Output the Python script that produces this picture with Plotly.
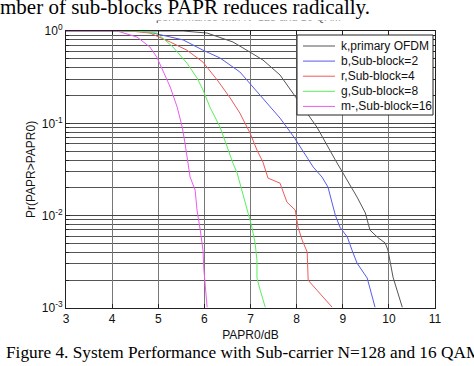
import plotly.graph_objects as go

# ---- data ----
x_k = [3.0, 5.54, 6.06, 6.62, 6.99, 7.27, 7.64, 8.25, 8.44, 8.84, 8.99, 9.10, 9.31, 9.49, 9.59, 9.75, 9.92, 9.98, 10.03, 10.09, 10.29]
y_k = [1.0, 1.0, 0.95, 0.76, 0.59, 0.485, 0.334, 0.123, 0.091, 0.040, 0.0297, 0.0243, 0.0159, 0.0107, 0.00698, 0.00586, 0.00505, 0.00424, 0.00306, 0.00216, 0.00102]

x_b = [3.0, 4.5, 4.89, 5.54, 5.97, 6.34, 6.77, 7.06, 7.27, 7.49, 7.64, 7.95, 8.25, 8.36, 8.55, 8.68, 8.77, 8.84, 8.94, 9.10, 9.20, 9.31, 9.53, 9.70]
y_b = [1.0, 1.0, 0.95, 0.80, 0.62, 0.51, 0.36, 0.247, 0.188, 0.139, 0.114, 0.07, 0.040, 0.0336, 0.0262, 0.0204, 0.0137, 0.0101, 0.0075, 0.00586, 0.00424, 0.00306, 0.00211, 0.00102]

x_r = [3.0, 4.4, 4.82, 5.26, 5.62, 5.97, 6.28, 6.56, 6.77, 6.99, 7.14, 7.27, 7.38, 7.64, 7.79, 7.97, 8.03, 8.12, 8.23, 8.25, 8.44, 8.77]
y_r = [1.0, 1.0, 0.95, 0.76, 0.62, 0.46, 0.294, 0.188, 0.129, 0.0785, 0.0514, 0.038, 0.0255, 0.0225, 0.014, 0.0115, 0.0075, 0.00544, 0.00403, 0.002, 0.00156, 0.00102]

x_g = [3.0, 4.54, 4.97, 5.32, 5.62, 5.84, 5.97, 6.12, 6.34, 6.49, 6.62, 6.71, 6.82, 6.93, 7.03, 7.10, 7.14, 7.14, 7.21, 7.32]
y_g = [1.0, 1.0, 0.95, 0.67, 0.45, 0.31, 0.23, 0.15, 0.091, 0.0553, 0.037, 0.029, 0.0176, 0.0115, 0.0075, 0.00505, 0.0033, 0.0021, 0.00156, 0.00102]

x_m = [3.0, 4.11, 4.54, 4.82, 4.97, 5.10, 5.26, 5.41, 5.52, 5.58, 5.65, 5.69, 5.80, 5.84, 5.91, 5.97, 5.99, 6.04, 6.06]
y_m = [1.0, 1.0, 0.86, 0.67, 0.52, 0.378, 0.247, 0.15, 0.091, 0.061, 0.037, 0.0262, 0.0189, 0.0115, 0.007, 0.00424, 0.00258, 0.00145, 0.00102]

names = ["k,primary OFDM", "b,Sub-block=2", "r,Sub-block=4", "g,Sub-block=8", "m-,Sub-block=16"]
colors = ["#555555", "#5a5aee", "#ee5a5a", "#5aee5a", "#ee5aee"]

x_ticks = [3, 4, 5, 6, 7, 8, 9, 10, 11]
y_ticks = [1e-3, 1e-2, 1e-1, 1]
y_ticktext = ["10<sup>-3</sup>", "10<sup>-2</sup>", "10<sup>-1</sup>", "10<sup>0</sup>"]
y_minor = [m * 10 ** e for e in (-3, -2, -1) for m in range(2, 10)]

# plot-area geometry in pixels (used to place paper-referenced decorations)
L, R, T, B = 66, 435, 31, 308
def px(x):
    return (x - L) / (R - L)
def py(y):
    return (B - y) / (B - T)

fig = go.Figure()
for xs, ys, n, c in zip([x_k, x_b, x_r, x_g, x_m], [y_k, y_b, y_r, y_g, y_m], names, colors):
    fig.add_trace(go.Scatter(x=xs, y=ys, mode="lines", name=n, line=dict(color=c, width=1)))

axis_font = dict(family="Liberation Sans, Arial", size=12, color="#111")
fig.update_layout(
    width=474, height=366,
    margin=dict(l=L, r=474 - R, t=T, b=366 - B),
    paper_bgcolor="white", plot_bgcolor="white",
    font=axis_font,
    showlegend=False,
    xaxis=dict(range=[3, 11], tickvals=x_ticks, showgrid=True, gridcolor="#777", gridwidth=1,
               showline=True, linecolor="#222", linewidth=1, mirror="ticks",
               ticks="inside", ticklen=4, tickcolor="#222", zeroline=False,
               title=dict(text="PAPR0/dB", font=dict(size=12), standoff=5)),
    yaxis=dict(type="log", range=[-3, 0], tickvals=y_ticks, ticktext=y_ticktext,
               showgrid=True, gridcolor="#444", gridwidth=1,
               showline=True, linecolor="#222", linewidth=1, mirror="ticks",
               ticks="inside", ticklen=4, tickcolor="#222", zeroline=False,
               minor=dict(tickvals=y_minor, showgrid=True, gridcolor="#555", gridwidth=1,
                          ticks="inside", ticklen=3, tickcolor="#222"),
               title=dict(text="Pr(PAPR>PAPR0)", font=dict(size=12), standoff=3)),
)

# legend box drawn MATLAB-style (compact row spacing)
fig.add_shape(type="rect", xref="paper", yref="paper", x0=px(297), x1=px(433), y0=py(115), y1=py(35),
              line=dict(color="#222", width=1), fillcolor="white", layer="above")
row0, step = 46, 15.1
for i, (n, c) in enumerate(zip(names, colors)):
    yy = row0 + i * step
    fig.add_shape(type="line", xref="paper", yref="paper", x0=px(303), x1=px(335), y0=py(yy), y1=py(yy),
                  line=dict(color=c, width=1), layer="above")
    fig.add_annotation(text=n, xref="paper", yref="paper", x=px(339), y=py(yy),
                       xanchor="left", yanchor="middle", showarrow=False,
                       font=dict(family="Liberation Sans, Arial", size=12, color="#111"))

# partial title (mostly hidden behind the page text above it)
fig.add_annotation(text="performance with N=128 and 16 QAM", xref="paper", yref="paper",
                   x=px(248), y=py(17), xanchor="center", yanchor="middle",
                   showarrow=False, font=dict(family="Liberation Sans, Arial", size=11, color="#444"))
# page text above the chart (white box hides the upper part of the chart title)
fig.add_annotation(text="mber of sub-blocks PAPR reduces radically.", xref="paper", yref="paper",
                   x=px(-2), y=py(7), xanchor="left", yanchor="middle",
                   showarrow=False, bgcolor="white", borderpad=1,
                   font=dict(family="Liberation Serif, Times New Roman", size=21, color="#000"))
# caption below
fig.add_annotation(text="Figure 4. System Performance with Sub-carrier N=128 and 16 QAM", xref="paper", yref="paper",
                   x=px(4), y=py(352), xanchor="left", yanchor="middle",
                   showarrow=False,
                   font=dict(family="Liberation Serif, Times New Roman", size=17.3, color="#000"))

fig.write_html("out.html", config={"displayModeBar": False},
               post_script="document.body.style.margin='0';document.body.style.overflow='hidden';")
